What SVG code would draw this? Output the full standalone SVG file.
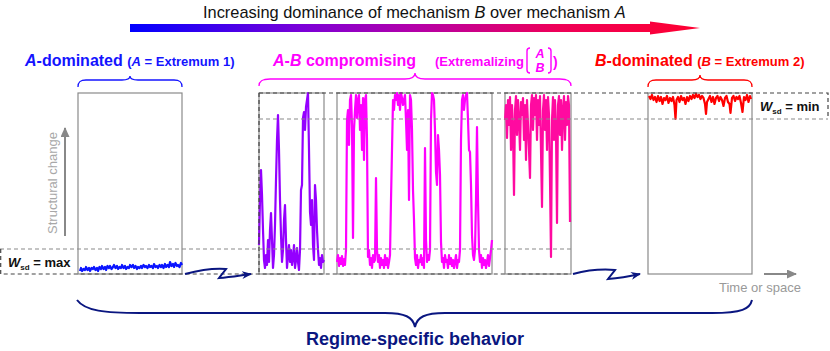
<svg xmlns="http://www.w3.org/2000/svg" width="830" height="351" viewBox="0 0 830 351">
<defs>
<linearGradient id="grad" x1="130" y1="0" x2="700" y2="0" gradientUnits="userSpaceOnUse">
<stop offset="0" stop-color="#0000ff"/>
<stop offset="0.3" stop-color="#7a00d8"/>
<stop offset="0.5" stop-color="#b400a8"/>
<stop offset="0.75" stop-color="#ee0058"/>
<stop offset="1" stop-color="#ff0030"/>
</linearGradient>
<marker id="navyHead" markerWidth="10" markerHeight="8" refX="9" refY="4" orient="auto" markerUnits="userSpaceOnUse">
<path d="M0,0 L10,4 L0,8 L3,4 Z" fill="#0a1680"/>
</marker>
<marker id="grayHead" markerWidth="10" markerHeight="9" refX="9" refY="4.5" orient="auto" markerUnits="userSpaceOnUse">
<path d="M0,0 L10,4.5 L0,9 Z" fill="#888"/>
</marker>
</defs>
<style>
text{font-family:"Liberation Sans",Arial,sans-serif}
.b{font-weight:bold}
.i{font-style:italic}
.box{fill:none;stroke:#8a8a8a;stroke-width:1.2}
.dashD{fill:none;stroke:#444;stroke-width:1.2;stroke-dasharray:4 3}
.dashL{fill:none;stroke:#8a8a8a;stroke-width:1.2;stroke-dasharray:4 3}
.brace{fill:none;stroke-width:1.3}
.data{fill:none;stroke-width:2.2;stroke-linejoin:round}
.wavy{fill:none;stroke:#0a1680;stroke-width:2}
.axis{fill:none;stroke:#888;stroke-width:2}
</style>

<g id="title">
<text x="203" y="18" font-size="16.4" fill="#111">Increasing dominance of mechanism <tspan class="i">B</tspan> over mechanism <tspan class="i">A</tspan></text>
<path d="M130,24 L650,24 L650,21.5 L700,28 L650,34.5 L650,32 L130,32 Z" fill="url(#grad)"/>
</g>

<g id="node-A-dominated">
<text x="25" y="66" font-size="16" fill="#1414ff" class="b"><tspan class="i">A</tspan>-dominated <tspan font-size="13">(<tspan class="i">A</tspan> = Extremum 1)</tspan></text>
<path class="brace" stroke="#1414ff" d="M78,87 C78,82 80,80 86,80 L122,80 C127,80 130,79 130,76 C130,79 133,80 138,80 L174,80 C180,80 182,82 182,87"/>
<rect class="box" x="78" y="93" width="104" height="181"/>
<polyline class="data" stroke="#0a14ff" stroke-width="1.8" points="80,271 81,268 82,271 83.5,269 85,270 86,267 87.5,270 89,268 90,271 91.5,268 93,269 94,267 95.5,270 97,268 98,271 99.5,267 101,269 102,266 103.5,269 105,267 106,270 107.5,266 109,268 110,266 111.5,269 113,267 114,265 115.5,268 117,266 118,269 119.5,267 121,268 122,265 123.5,268 125,266 126,269 127.5,267 129,268 130,265 131.5,267 133,265 134,268 135.5,266 137,269 138,267 139.5,268 141,266 142,268 143.5,265 145,267 146,266 147.5,268 149,265 150,267 151.5,266 153,268 154,264 155.5,267 157,266 158,268 159.5,265 161,267 162,265 163.5,268 165,264 166,267 167.5,265 169,267 170,262 171.5,266 173,264 174,267 175.5,263 177,266 178,265 179.5,267 181,263 182,265"/>
</g>

<g id="node-AB-compromising">
<text x="273" y="66" font-size="16" fill="#ff00ff" class="b"><tspan class="i">A</tspan>-<tspan class="i">B</tspan> compromising</text>
<text x="435" y="66" font-size="13" fill="#ff00ff" class="b">(Extremalizing</text>
<path d="M530,48 Q527,48 527,51 L527,70 Q527,73 530,73 M548,48 Q551,48 551,51 L551,70 Q551,73 548,73" fill="none" stroke="#ff00ff" stroke-width="1.4"/>
<text x="540" y="57.5" font-size="12.5" fill="#ff00ff" class="b i" text-anchor="middle">A</text>
<text x="540" y="72" font-size="12.5" fill="#ff00ff" class="b i" text-anchor="middle">B</text>
<text x="553" y="67" font-size="14" fill="#ff00ff" class="b">)</text>
<path class="brace" stroke="#ff00ff" d="M259,86 C259,81 262,79 270,79 L405,79 C411,79 415,77 415,73 C415,77 419,79 425,79 L560,79 C568,79 571,81 571,86"/>
<rect class="box" x="259" y="93" width="65" height="181"/>
<rect class="box" x="337" y="93" width="155" height="181"/>
<rect class="box" x="505" y="93" width="66" height="181"/>
<polyline class="data" stroke="#9400ff" points="259,245 260,200 261,170 262,195 263,230 264,260 265,268 266,255 267,265 268,240 269,262 270,230 271,213 272,240 273,268 274,255 275,225 276,180 277,140 278,115 279,150 280,200 281,235 282,262 283,250 284,220 285,205 286,240 287,268 288,255 289,245 290,262 291,250 292,265 293,258 294,245 295,268 296,260 297,248 298,262 299,270 300,250 301,190 302,185 303,118 304,112 305,130 306,107 307,100 308,93 309,150 310,212 311,225 312,200 313,245 314,260 315,185 316,200 317,230 318,250 319,265 320,258 321,268 322,255 323,262 324,260"/>
<polyline class="data" stroke="#ff00ff" points="337,262 338,255 339,266 340,258 341,264 342,256 343,266 344,259 345,265 346,250 347,120 348,110 349,145 350,100 351,95 352,125 353,238 354,130 355,110 356,95 357,118 358,100 359,95 360,130 361,105 362,150 363,98 364,160 365,100 366,95 367,140 368,257 369,250 370,265 371,258 372,268 373,255 374,262 375,260 376,178 377,250 378,262 379,255 380,268 381,258 382,265 383,260 384,268 385,255 386,265 387,258 388,268 389,262 390,255 391,200 392,150 393,100 394,110 395,95 396,100 397,93 398,105 399,95 400,110 401,93 402,98 403,105 404,100 405,95 406,120 407,150 408,110 409,200 410,95 411,100 412,130 413,190 414,220 415,258 416,265 417,255 418,268 419,260 420,262 421,255 422,265 423,258 424,268 425,148 426,240 427,262 428,255 429,260 430,250 431,120 432,93 433,95 434,100 435,130 436,172 437,185 438,135 439,150 440,175 441,242 442,262 443,258 444,268 445,255 446,262 447,260 448,268 449,255 450,264 451,258 452,266 453,260 454,268 455,262 456,255 457,268 458,260 459,262 460,250 461,140 462,100 463,95 464,110 465,100 466,95 467,93 468,120 469,150 470,152 471,185 472,235 473,255 474,260 475,250 476,200 477,127 478,200 479,250 480,262 481,255 482,268 483,258 484,265 485,260 486,268 487,262 488,255 489,266 490,258 491,250 492,240"/>
<polyline class="data" stroke="#ff0aa0" points="505,120 506,105 507,138 508,100 509,125 510,97 511,150 512,105 513,130 514,195 515,110 516,96 517,135 518,100 519,120 520,150 521,102 522,115 523,98 524,140 525,105 526,160 527,100 528,125 529,150 530,178 531,105 532,95 533,130 534,98 535,115 536,95 537,140 538,100 539,125 540,96 541,150 542,207 543,110 544,95 545,130 546,100 547,150 548,97 549,115 550,180 551,257 552,120 553,97 554,140 555,100 556,130 557,223 558,105 559,96 560,135 561,100 562,150 563,110 564,96 565,140 566,102 567,125 568,96 569,105 570,222"/>
</g>

<g id="node-B-dominated">
<text x="595" y="66" font-size="16" fill="#ff0000" class="b"><tspan class="i">B</tspan>-dominated <tspan font-size="13">(<tspan class="i">B</tspan> = Extremum 2)</tspan></text>
<path class="brace" stroke="#ff0000" d="M648,87 C648,82 650,80 656,80 L692,80 C697,80 700,79 700,75 C700,79 703,80 708,80 L744,80 C750,80 752,82 752,87"/>
<rect class="box" x="648" y="93" width="104" height="181"/>
<polyline class="data" stroke="#ff0000" points="649,96 650.5,99 652,95 653.5,100 655,97 656.5,102 658,96 659.5,101 661,97 662.5,104 664,98 665.5,100 667,96 668.5,103 670,98 671.5,101 673,97 674.5,105 675.5,119 676.5,100 678,97 679.5,102 681,96 682.5,100 684,98 685.5,104 687,97 688.5,101 690,96 691.5,99 693,95 694.5,98 696,94 697.5,97 699,95 700.5,99 702,96 703.5,98 705,104 706,114 707,102 708.5,99 710,96 711.5,102 713,97 714.5,104 716,98 717.5,96 719,101 720.5,97 722,100 723.5,106 725,98 726.5,96 728,102 729.5,104 730.5,113 732,98 733.5,96 735,101 736.5,97 738,99 739.5,96 741,103 742.5,112 744,97 745.5,100 747,95 748.5,102 750,96 751,99"/>
</g>

<g id="guides">
<path class="dashD" d="M259,93 L828,93 L828,119"/>
<path class="dashL" d="M259,119 L828,119"/>
<path class="dashD" d="M259,93 L259,274"/>
<path class="dashL" d="M0,249 L571,249"/>
<path class="dashD" d="M0.7,249 L0.7,274 L571,274"/>
</g>

<g id="label-wsd-max">
<text x="8" y="267" font-size="13" class="b" fill="#111"><tspan class="i">W</tspan><tspan font-size="8" dy="3">sd</tspan><tspan dy="-3"> = max</tspan></text>
</g>
<g id="label-wsd-min">
<text x="760" y="111" font-size="13" class="b" fill="#111"><tspan class="i">W</tspan><tspan font-size="8" dy="3">sd</tspan><tspan dy="-3"> = min</tspan></text>
</g>

<g id="axes">
<path class="axis" d="M65,236 L65,128" marker-end="url(#grayHead)"/>
<text transform="translate(57,183) rotate(-90)" font-size="13" fill="#a8a8a8" text-anchor="middle">Structural change</text>
<path class="axis" d="M764,274 L796,274" marker-end="url(#grayHead)"/>
<text x="719" y="292" font-size="13" fill="#999">Time or space</text>
</g>

<g id="connectors">
<path class="wavy" d="M185,274 C200,270 214,268 226,269 L219,278 C232,277 242,275 251,274" marker-end="url(#navyHead)"/>
<path class="wavy" d="M573,274 C588,270 603,269 615,270 L608,279 C621,278 631,276 640,274" marker-end="url(#navyHead)"/>
</g>

<g id="node-regime">
<path fill="none" stroke="#0a1680" stroke-width="2" d="M77,300 C85,311 105,313 140,313 L385,313 C405,313 413,317 415,327 C417,317 425,313 445,313 L712,313 C742,313 750,309 752,300"/>
<text x="415" y="345" font-size="18" class="b" fill="#0a1680" text-anchor="middle">Regime-specific behavior</text>
</g>
</svg>
